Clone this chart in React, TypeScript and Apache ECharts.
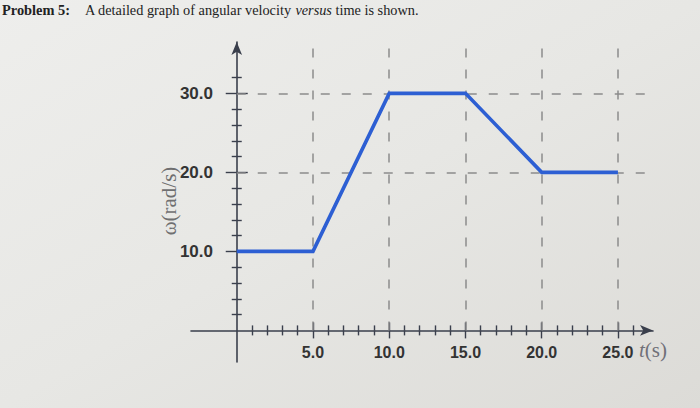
import React, { useEffect, useRef } from "react";
import * as echarts from "echarts";

// ---- data ----
const timeValues = [0, 5, 10, 15, 20, 25];
const omegaValues = [10, 10, 30, 30, 20, 20];
const xMajorTicks = [5, 10, 15, 20, 25];
const xMinorTicks = [1, 2, 3, 4, 6, 7, 8, 9, 11, 12, 13, 14, 16, 17, 18, 19, 21, 22, 23, 24, 26];
const yMajorTicks = [10, 20, 30];
const yMinorTicks = [2, 4, 6, 8, 12, 14, 16, 18, 22, 24, 26, 28, 32];
const gridLinesX = [5, 10, 15, 20, 25];
const gridLinesY = [20, 30];

const X_MIN = -3;
const X_MAX = 27.3;
const Y_MIN = -4;
const Y_MAX = 36.5;

const AXIS_COLOR = "#3a3f4c";
const BLUE = "#2d5fd3";
const DASH_COLOR = "#8c8c8c";
const SANS = "'Liberation Sans', Arial, sans-serif";
const SERIF = "'Liberation Serif', 'Times New Roman', serif";

function makeXAxis(position: string, ticks: number[], len: number, main: boolean) {
  return {
    type: "value",
    min: X_MIN,
    max: X_MAX,
    position,
    axisLine: main
      ? {
          show: true,
          onZero: true,
          onZeroAxisIndex: 0,
          symbol: ["none", "arrow"],
          symbolSize: [8, 13],
          lineStyle: { color: AXIS_COLOR, width: 1.6 },
        }
      : { show: true, onZero: true, onZeroAxisIndex: 0, lineStyle: { opacity: 0 } },
    axisTick: {
      show: true,
      customValues: ticks,
      length: len,
      lineStyle: { color: AXIS_COLOR, width: 1.4 },
    },
    axisLabel: main
      ? {
          show: true,
          customValues: xMajorTicks,
          formatter: (v: number) => v.toFixed(1),
          fontFamily: SANS,
          fontWeight: "bold",
          fontSize: 16,
          color: "#333333",
          // labels are laid out from the grid's bottom edge; pull them up to the zero line
          margin: -18,
        }
      : { show: false },
    splitLine: { show: false },
  };
}

function makeYAxis(position: string, ticks: number[], len: number, main: boolean) {
  return {
    type: "value",
    min: Y_MIN,
    max: Y_MAX,
    position,
    axisLine: main
      ? {
          show: true,
          onZero: true,
          onZeroAxisIndex: 0,
          symbol: ["none", "arrow"],
          symbolSize: [8, 13],
          lineStyle: { color: AXIS_COLOR, width: 1.6 },
        }
      : { show: true, onZero: true, onZeroAxisIndex: 0, lineStyle: { opacity: 0 } },
    axisTick: {
      show: true,
      customValues: ticks,
      length: len,
      lineStyle: { color: AXIS_COLOR, width: 1.4 },
    },
    axisLabel: main
      ? {
          show: true,
          customValues: yMajorTicks,
          formatter: (v: number) => v.toFixed(1),
          fontFamily: SANS,
          fontWeight: "bold",
          fontSize: 17,
          color: "#333333",
          // labels are laid out from the grid's left edge; push them toward the zero line
          margin: -22,
        }
      : { show: false },
    splitLine: { show: false },
  };
}

export default function App() {
  const ref = useRef<HTMLDivElement>(null);

  useEffect(() => {
    if (!ref.current) return;
    const chart = echarts.init(ref.current, undefined, { renderer: "svg" });

    const lineData = timeValues.map((t, i) => [t, omegaValues[i]]);
    const dashed = [
      ...gridLinesX.map((x) => [{ coord: [x, 0] }, { coord: [x, Y_MAX] }]),
      ...gridLinesY.map((y) => [{ coord: [0, y] }, { coord: [X_MAX, y] }]),
    ];

    chart.setOption({
      animation: false,
      backgroundColor: new echarts.graphic.LinearGradient(0, 0, 1, 1, [
        { offset: 0, color: "#eeeeec" },
        { offset: 0.5, color: "#e7e7e4" },
        { offset: 1, color: "#dcdbd7" },
      ]),
      grid: {
        left: 191,
        top: 42,
        width: 462,
        height: 320,
        containLabel: false,
        outerBoundsMode: "none",
      },
      xAxis: [
        makeXAxis("bottom", xMajorTicks, 8, true),
        makeXAxis("top", xMajorTicks, 8, false),
        makeXAxis("bottom", xMinorTicks, 5, false),
        makeXAxis("top", xMinorTicks, 5, false),
      ],
      yAxis: [
        makeYAxis("left", yMajorTicks, 11, true),
        makeYAxis("right", yMajorTicks, 11, false),
        makeYAxis("left", yMinorTicks, 5, false),
        makeYAxis("right", yMinorTicks, 5, false),
      ],
      series: [
        {
          type: "line",
          xAxisIndex: 0,
          yAxisIndex: 0,
          data: lineData,
          showSymbol: false,
          symbol: "none",
          z: 4,
          lineStyle: { color: BLUE, width: 3.6, join: "miter" },
          markLine: {
            silent: true,
            z: 1,
            symbol: ["none", "none"],
            label: { show: false },
            emphasis: { disabled: true },
            lineStyle: { color: DASH_COLOR, width: 1.5, type: [9, 12] },
            data: dashed,
          },
        },
      ],
      graphic: [
        {
          type: "text",
          left: 2,
          top: 3,
          style: {
            text: "Problem 5:",
            fontFamily: SERIF,
            fontSize: 14.4,
            fontWeight: "bold",
            fill: "#222222",
          },
        },
        {
          type: "text",
          left: 85,
          top: 3,
          style: {
            text: "{n|A detailed graph of angular velocity }{i|versus}{n| time is shown.}",
            rich: {
              n: { fontFamily: SERIF, fontSize: 14.3, fill: "#222222" },
              i: { fontFamily: SERIF, fontSize: 14.3, fontStyle: "italic", fill: "#222222" },
            },
            fontFamily: SERIF,
            fontSize: 14.3,
          },
        },
        {
          type: "text",
          x: 169,
          y: 201,
          rotation: Math.PI / 2,
          style: {
            text: "ω(rad/s)",
            fontFamily: SERIF,
            fontSize: 21,
            fill: "#6f6f70",
            align: "center",
            verticalAlign: "middle",
          },
        },
        {
          type: "text",
          x: 639,
          y: 350,
          style: {
            text: "{i|t}{n|(s)}",
            rich: {
              i: { fontFamily: SERIF, fontSize: 21, fontStyle: "italic", fill: "#707078" },
              n: { fontFamily: SERIF, fontSize: 21, fill: "#707078" },
            },
            verticalAlign: "middle",
          },
        },
      ],
    });

    return () => chart.dispose();
  }, []);

  return (
    <div
      ref={ref}
      style={{ position: "absolute", left: 0, top: 0, width: 700, height: 408 }}
    />
  );
}
